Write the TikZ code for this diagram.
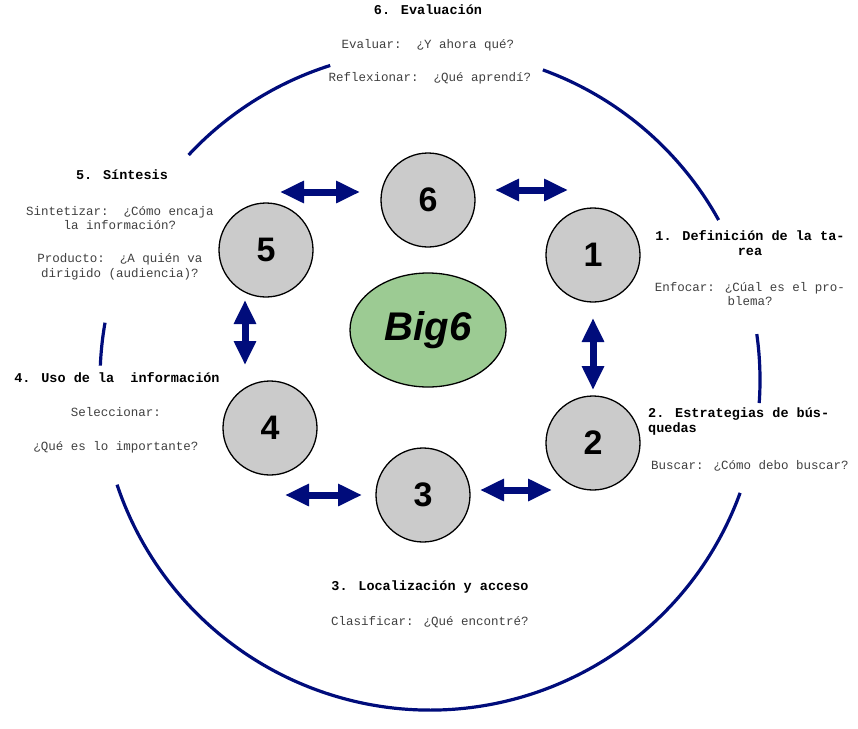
\documentclass[tikz,border=0pt]{standalone}
\usepackage{fontspec}
\setmainfont{Liberation Mono}
\newfontfamily\numf{Liberation Sans}
\usetikzlibrary{arrows.meta,shapes.geometric}
\definecolor{navy}{HTML}{000C7B}
\definecolor{txtg}{HTML}{404040}
\definecolor{cfill}{HTML}{CBCBCB}
\definecolor{gfill}{HTML}{9CCB93}
\begin{document}
\begin{tikzpicture}[x=1pt,y=-1pt,
  stage/.style={circle,draw=black,line width=1.3pt,fill=cfill,minimum size=94pt,inner sep=0,font=\numf\bfseries\fontsize{34}{34}\selectfont},
  ttl/.style={inner sep=0,align=center,font=\bfseries\fontsize{13.5}{15}\selectfont},
  sub/.style={inner sep=0,align=center,text=txtg,font=\fontsize{12.5}{14.5}\selectfont},
  ring/.style={draw=navy,line width=3.2pt},
  dbl/.style={draw=navy,line width=7pt,{Triangle[length=24pt,width=21pt]}-{Triangle[length=24pt,width=21pt]}}]
\useasboundingbox (0,0) rectangle (858,728);
\node[stage] (s6) at (428,200) {6};
\node[stage] (s1) at (593,255) {1};
\node[stage] (s5) at (266,250) {5};
\node[stage] (s4) at (270,428) {4};
\node[stage] (s3) at (423,495) {3};
\node[stage] (s2) at (593,443) {2};
\node[ellipse,draw=black,line width=1.3pt,fill=gfill,minimum width=156pt,minimum height=114pt,font=\numf\bfseries\itshape\fontsize{40}{40}\selectfont] (big) at (428,330) {Big6};
% ring
\coordinate (c) at (430,380);
\draw[ring] (c) ++(-137:330) arc[start angle=-137,end angle=-107.6,radius=330];
\draw[ring] (c) ++(-70:330) arc[start angle=-70,end angle=-29,radius=330];
\draw[ring] (c) ++(-8:330) arc[start angle=-8,end angle=4,radius=330];
\draw[ring] (c) ++(20:330) arc[start angle=20,end angle=161.5,radius=330];
\draw[ring] (c) ++(-170:330) arc[start angle=-170,end angle=-177.5,radius=330];
% arrows
\coordinate (a56) at (280,192); \coordinate (a65) at (360,192);
\coordinate (a61) at (495,190); \coordinate (a16) at (568,190);
\coordinate (a12) at (593,318); \coordinate (a21) at (593,390);
\coordinate (a23) at (552,490); \coordinate (a32) at (480,490);
\coordinate (a34) at (362,495); \coordinate (a43) at (285,495);
\coordinate (a45) at (245,365); \coordinate (a54) at (245,300);
\draw[dbl] (a56) -- (a65);
\draw[dbl] (a61) -- (a16);
\draw[dbl] (a12) -- (a21);
\draw[dbl] (a32) -- (a23);
\draw[dbl] (a43) -- (a34);
\draw[dbl] (a54) -- (a45);
% texts
\node[ttl] (t6) at (428,10) {6. Evaluación};
\node[sub] (e1) at (428,45) {Evaluar:\ \ ¿Y ahora qué?};
\node[sub] (e2) at (430,78) {Reflexionar:\ \ ¿Qué aprendí?};
\node[ttl] (t5) at (122,175) {5. Síntesis};
\node[sub] (s5a) at (120,218) {Sintetizar:\ \ ¿Cómo encaja\\la información?};
\node[sub] (s5b) at (120,267) {Producto:\ \ ¿A quién va\\dirigido (audiencia)?};
\node[ttl] (t4) at (117,378) {4. Uso de la\ \ información};
\node[sub] (s4a) at (116,412) {Seleccionar:};
\node[sub] (s4b) at (116,447) {¿Qué es lo importante?};
\node[ttl] (t1) at (750,243) {1. Definición de la ta-\\rea};
\node[sub] (s1a) at (750,294) {Enfocar: ¿Cúal es el pro-\\blema?};
\node[ttl,align=left,anchor=west] (t2) at (648,422) {2. Estrategias de bús-\\quedas};
\node[sub] (s2a) at (750,466) {Buscar: ¿Cómo debo buscar?};
\node[ttl] (t3) at (430,587) {3. Localización y acceso};
\node[sub] (s3a) at (430,622) {Clasificar: ¿Qué encontré?};
\end{tikzpicture}
\end{document}
